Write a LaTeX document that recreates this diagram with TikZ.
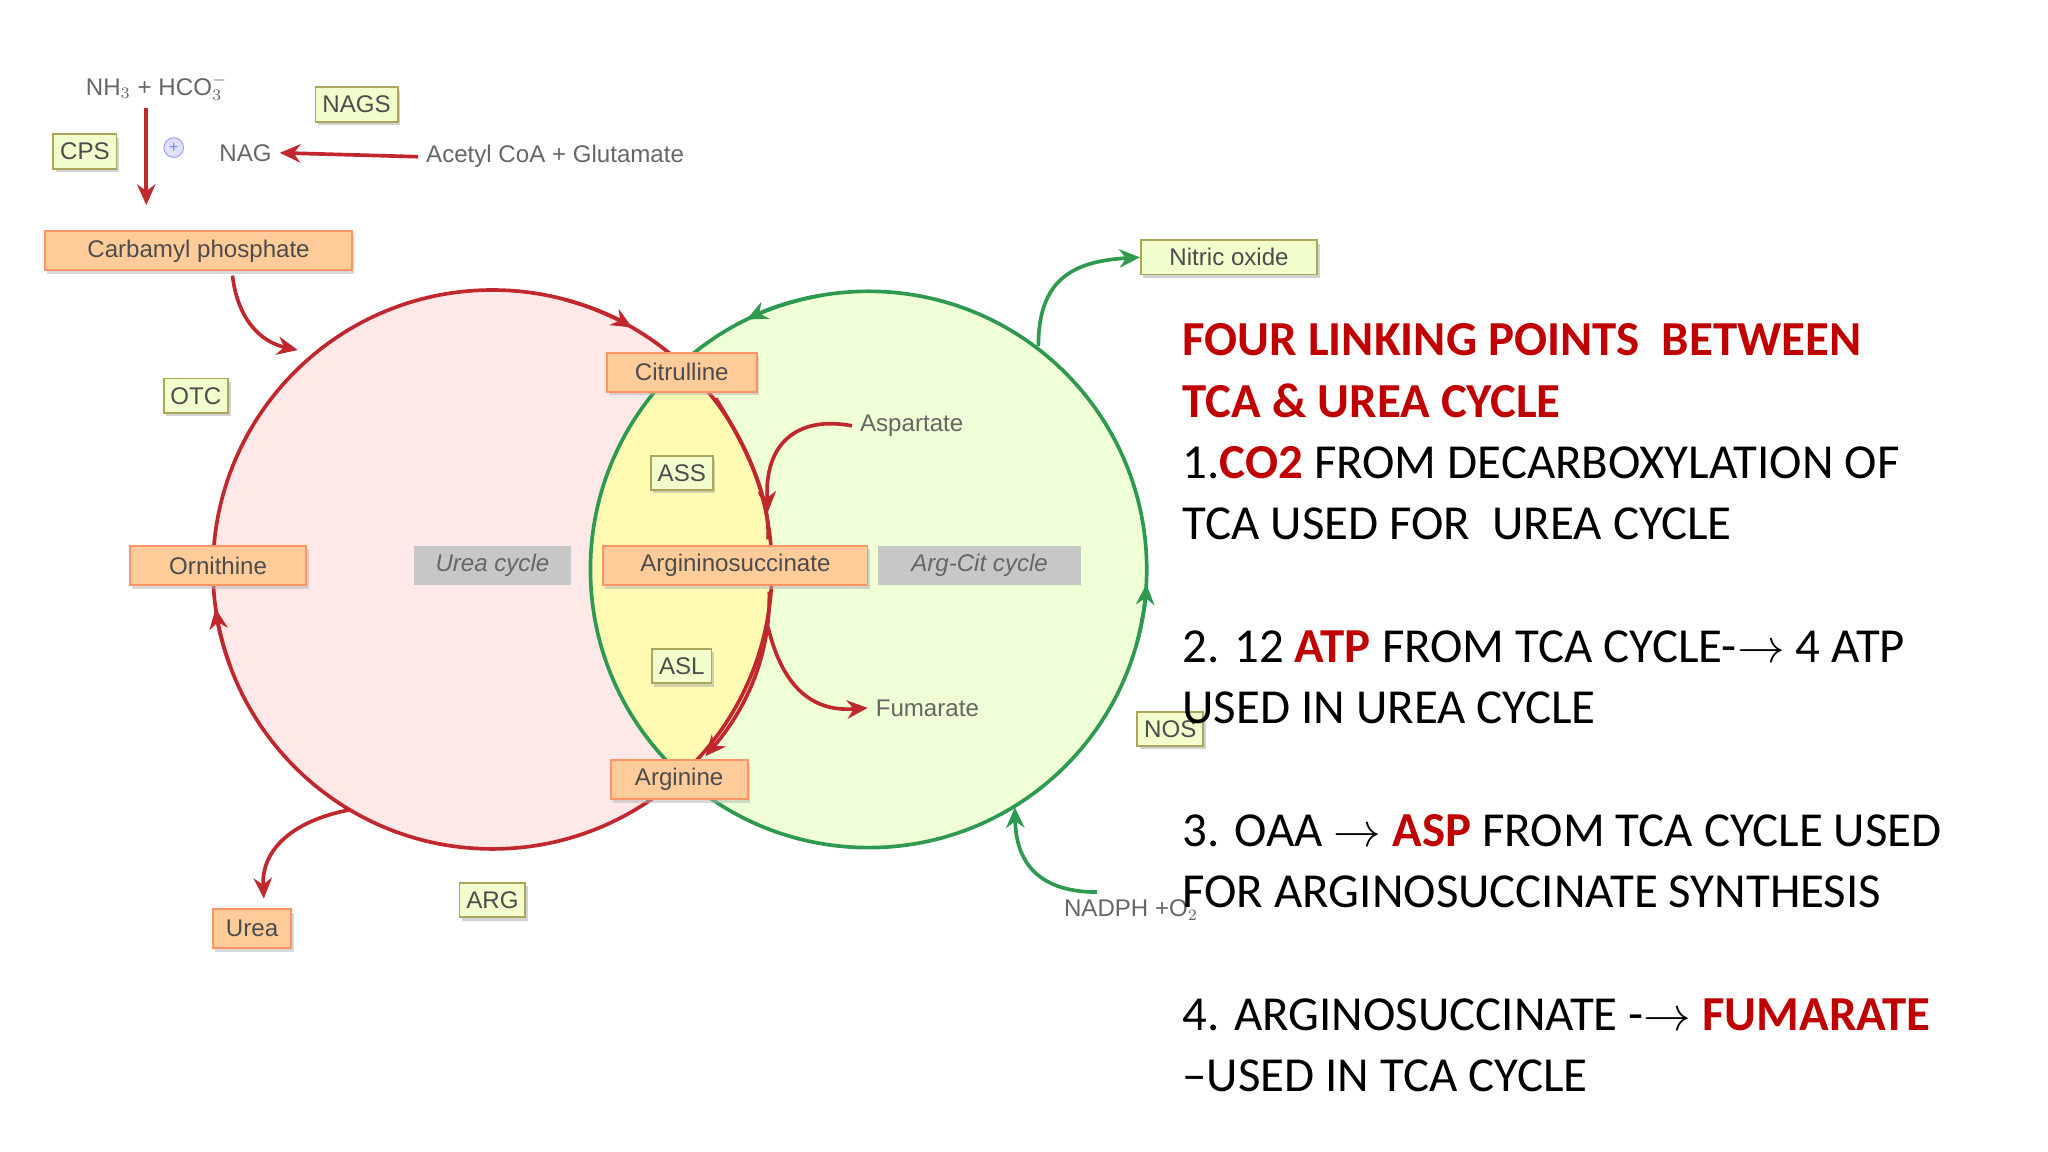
\documentclass[tikz,border=0pt]{standalone}
\usepackage{fontspec}
\setmainfont{Carlito}
\newfontfamily\diag{Liberation Sans}
\usetikzlibrary{arrows.meta,shadows}
\definecolor{dred}{HTML}{C0282E}
\definecolor{dgreen}{HTML}{2E9A50}
\definecolor{tred}{HTML}{C00000}
\newcommand{\rar}{$\mathbf{\rightarrow}$}
\tikzset{
 gbox/.style={draw=black!25!olive!60,fill=green!25!yellow!20!white,line width=0.8pt,drop shadow={shadow xshift=1pt,shadow yshift=-1.5pt,fill=black!35},font=\diag\fontsize{10.5}{12}\selectfont,text=black!70,inner sep=3pt,minimum height=15pt},
 obox/.style={draw=orange!60!red!60,fill=orange!40!white,line width=0.8pt,drop shadow={shadow xshift=1pt,shadow yshift=-1.5pt,fill=black!30},font=\diag\fontsize{10.5}{12}\selectfont,text=black!70,inner sep=3pt,minimum height=17pt},
 grbox/.style={fill=black!22,font=\diag\itshape\fontsize{10.5}{12}\selectfont,text=black!60,inner sep=3pt,minimum height=17pt},
 lbl/.style={font=\diag\fontsize{10.5}{12}\selectfont,text=black!60},
 rarr/.style={dred,line width=1.6pt,-{Stealth[length=9pt,width=8pt]}},
 garr/.style={dgreen,line width=1.6pt,-{Stealth[length=9pt,width=8pt]}},
 rt/.style={font=\fontsize{21.3}{26}\selectfont,anchor=west,align=left,inner sep=0pt},
}
\begin{document}
\begin{tikzpicture}[x=0.02cm,y=-0.02cm]
\useasboundingbox (0,0) rectangle (1568,882);
\coordinate (R) at (377,436);
\coordinate (G) at (665,436);
% circles
\fill[red!9!white] (R) circle[radius=4.28cm];
\fill[green!40!yellow!16!white] (G) circle[radius=4.26cm];
\begin{scope}
\clip (R) circle[radius=4.28cm];
\fill[yellow!30!white] (G) circle[radius=4.26cm];
\end{scope}
\draw[dred,line width=1.6pt] (R) circle[radius=4.28cm];
\draw[dgreen,line width=1.6pt] (G) circle[radius=4.26cm];
% arrow tips on circles
\draw[rarr] (R) ++(75:4.28cm) arc[start angle=75,end angle=60,radius=4.28cm];
\draw[rarr] (R) ++(200:4.28cm) arc[start angle=200,end angle=188,radius=4.28cm];
\draw[garr] (G) ++(100:4.26cm) arc[start angle=100,end angle=116,radius=4.26cm];
\draw[garr] (G) ++(-15:4.26cm) arc[start angle=-15,end angle=-3,radius=4.26cm];
% top part
\node[lbl] (nh3) at (120,67) {NH$_3$ + HCO$_3^-$};
\node[gbox] (nags) at (273,80) {NAGS};
\node[gbox] (cps) at (65,116) {CPS};
\node[circle,draw=blue!40,fill=blue!12,inner sep=1pt,font=\diag\fontsize{7}{8}\selectfont,text=blue!50] (plus) at (133,113) {+};
\node[lbl] (nag) at (188,117) {NAG};
\node[lbl] (acg) at (425,120) {Acetyl CoA + Glutamate};
\draw[rarr] (acg.west) -- (nag.east);
\coordinate (a1) at (112,83);
\coordinate (a2) at (112,157);
\draw[rarr] (a1) -- (a2);
\node[obox,minimum width=4.7cm] (carb) at (152,192) {Carbamyl phosphate};
\coordinate (c1) at (178,211);
\coordinate (c2) at (228,268);
\draw[rarr] (c1) .. controls (182,245) and (200,262) .. (c2);
% nodes on cycle
\node[gbox] (otc) at (150,303) {OTC};
\node[obox,minimum width=2.7cm] (orn) at (167,433) {Ornithine};
\node[grbox,minimum width=2.4cm] (uc) at (377,433) {Urea cycle};
\node[obox,minimum width=4.05cm] (ags) at (563,433) {Argininosuccinate};
\node[grbox,minimum width=3.1cm] (acc) at (750,433) {Arg-Cit cycle};
\node[obox,minimum width=2.3cm] (cit) at (522,285) {Citrulline};
\node[gbox] (ass) at (522,362) {ASS};
\node[gbox] (asl) at (522,510) {ASL};
\node[obox,minimum width=2.1cm] (arg) at (520,597) {Arginine};
\node[obox,minimum width=1.2cm] (urea) at (193,711) {Urea};
\node[gbox] (argz) at (377,689) {ARG};
\node[lbl] (asp) at (698,326) {Aspartate};
\node[lbl] (fum) at (710,542) {Fumarate};
\node[gbox,minimum width=2.7cm] (no) at (941,197) {Nitric oxide};
\node[gbox] (nos) at (896,558) {NOS};
\node[lbl] (nadph) at (866,697) {NADPH +O$_2$};
% reaction arrows
\coordinate (s1) at (548,305);
\coordinate (s2) at (588,413);
\draw[dred,line width=1.6pt] (s1) .. controls (570,340) and (590,380) .. (s2);
\draw[rarr] (asp.west) .. controls (610,318) and (585,340) .. (588,392);
\coordinate (t1) at (589,453);
\coordinate (t2) at (540,579);
\draw[rarr] (t1) .. controls (590,510) and (565,550) .. (t2);
\draw[rarr] (588,480) .. controls (600,530) and (625,545) .. (fum.west);
\coordinate (u1) at (268,620);
\coordinate (u2) at (202,688);
\draw[rarr] (u1) .. controls (225,628) and (200,650) .. (u2);
\coordinate (n1) at (795,265);
\draw[garr] (n1) .. controls (795,215) and (820,200) .. (no.west);
\coordinate (p1) at (840,683);
\coordinate (p2) at (777,618);
\draw[garr] (p1) .. controls (800,683) and (778,665) .. (p2);
% right text
\node[rt,text=tred] (h1) at (905,260) {\textbf{FOUR LINKING POINTS\ \ BETWEEN}};
\node[rt,text=tred] (h2) at (905,307) {\textbf{TCA \& UREA CYCLE}};
\node[rt] (l1) at (905,354) {1.\textcolor{tred}{\textbf{CO2}} FROM DECARBOXYLATION OF};
\node[rt] (l2) at (905,401) {TCA USED FOR\ \ UREA CYCLE};
\node[rt] (l3) at (905,495) {2. 12 \textcolor{tred}{\textbf{ATP}} FROM TCA CYCLE-\rar\ 4 ATP};
\node[rt] (l4) at (905,542) {USED IN UREA CYCLE};
\node[rt] (l5) at (905,636) {3. OAA \rar\ \textcolor{tred}{\textbf{ASP}} FROM TCA CYCLE USED};
\node[rt] (l6) at (905,683) {FOR ARGINOSUCCINATE SYNTHESIS};
\node[rt] (l7) at (905,777) {4. ARGINOSUCCINATE -\rar\ \textcolor{tred}{\textbf{FUMARATE}}};
\node[rt] (l8) at (905,824) {--USED IN TCA CYCLE};
\end{tikzpicture}
\end{document}
